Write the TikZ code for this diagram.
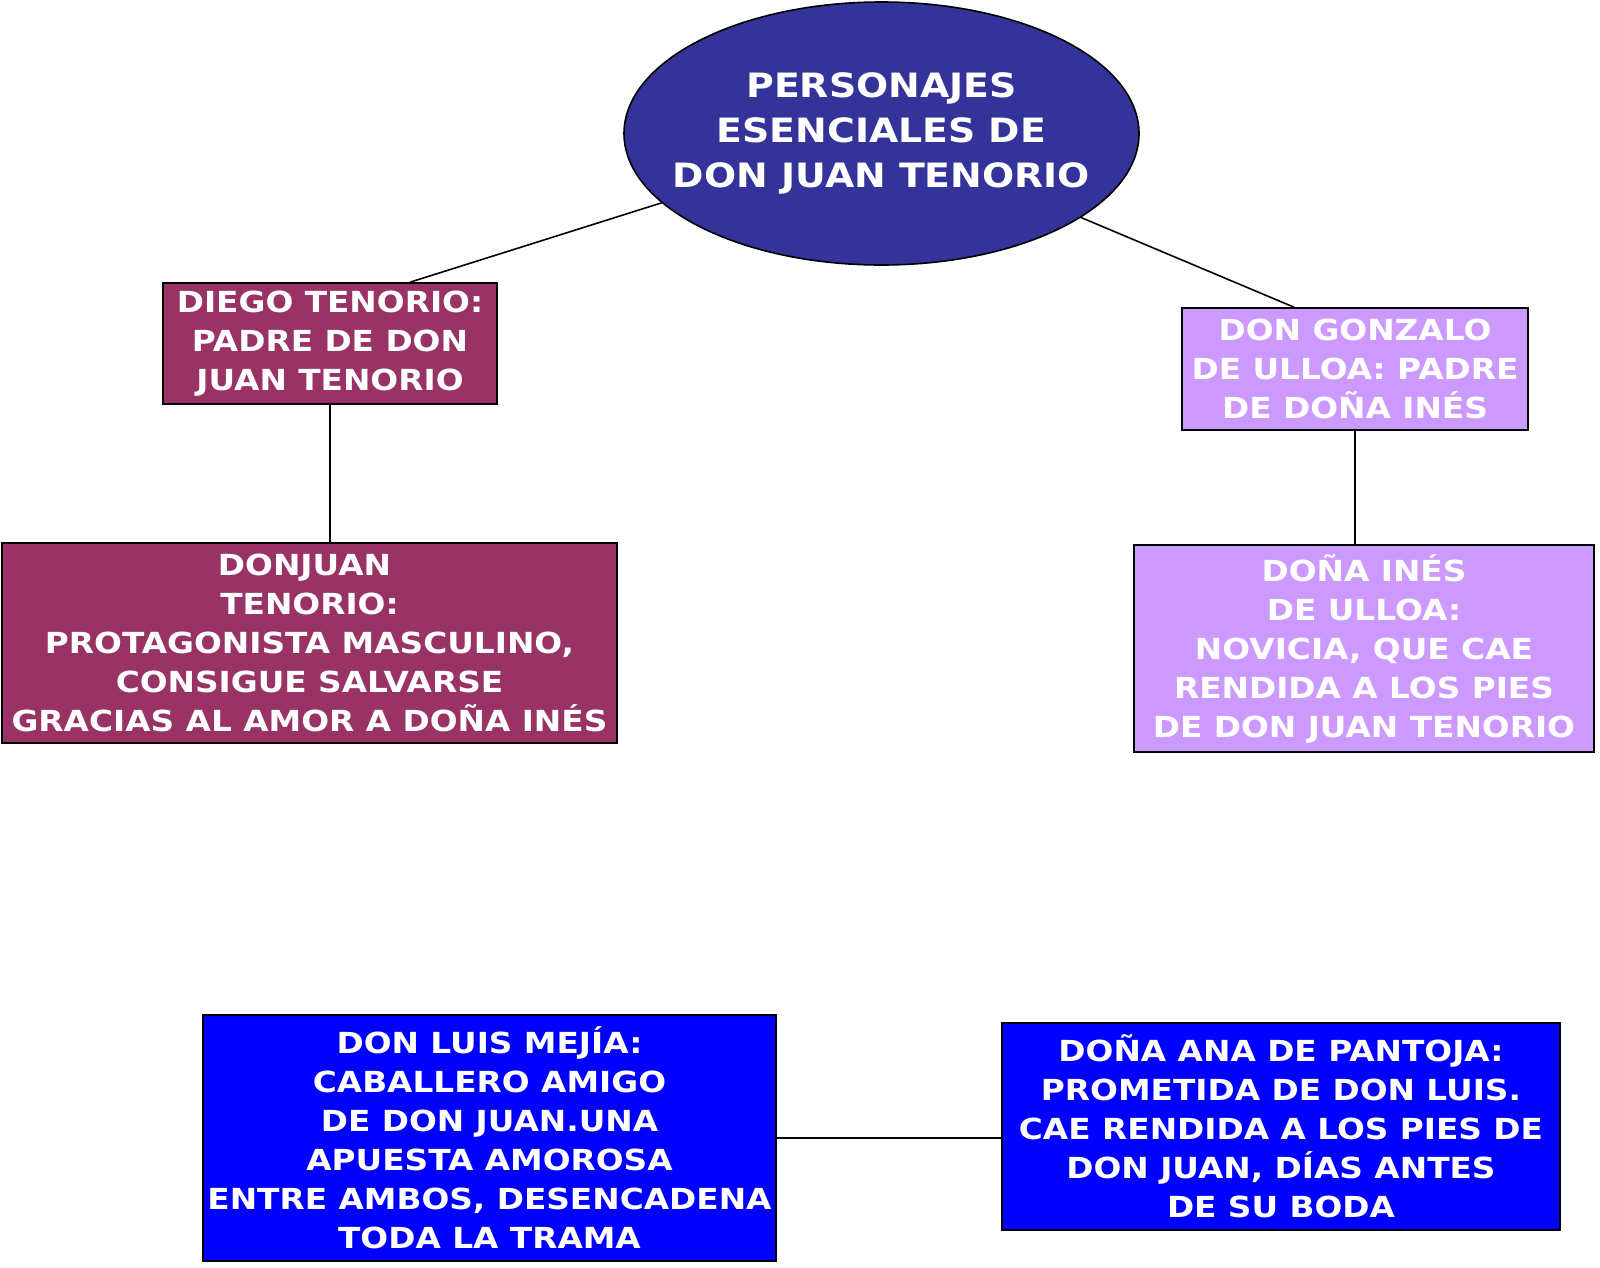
\documentclass[tikz,border=0pt]{standalone}
\usepackage{fontspec}
\setmainfont{DejaVu Sans}[FakeStretch=1.13]
\usetikzlibrary{shapes.geometric}
\definecolor{ellblue}{HTML}{333399}
\definecolor{wine}{HTML}{993366}
\definecolor{lilac}{HTML}{CC99FF}
\definecolor{pureblue}{HTML}{0000FF}
\tikzset{
  box/.style={draw=black, line width=1.6pt, rectangle, inner sep=0pt, align=center,
    text=white, font=\bfseries\fontsize{29}{39}\selectfont},
  ellnode/.style={draw=black, line width=1.6pt, ellipse, inner xsep=-40pt, inner ysep=0pt, align=center,
    text=white, fill=ellblue, font=\bfseries\fontsize{33.5}{45}\selectfont},
  conn/.style={draw=black, line width=1.6pt}
}
\begin{document}
\begin{tikzpicture}[x=1pt,y=-1pt]
\useasboundingbox (0,0) rectangle (1600,1267);
\node[ellnode, minimum width=515pt, minimum height=263pt] (ell) at (881.5,133.5)
  {PERSONAJES\\ESENCIALES DE\\DON JUAN TENORIO};
\node[box, fill=wine, minimum width=334pt, minimum height=121pt] (diego) at (330,343.5)
  {DIEGO TENORIO:\\PADRE DE DON\\JUAN TENORIO};
\node[box, fill=wine, minimum width=615pt, minimum height=200pt] (donjuan) at (309.5,643)
  {DONJUAN\hspace*{10pt}\\ TENORIO:\\PROTAGONISTA MASCULINO,\\CONSIGUE SALVARSE\\GRACIAS AL AMOR A DOÑA INÉS};
\node[box, fill=lilac, minimum width=346pt, minimum height=122pt] (gonzalo) at (1355,369)
  {DON GONZALO\\DE ULLOA: PADRE\\DE DOÑA INÉS};
\node[box, fill=lilac, minimum width=460pt, minimum height=207pt] (ines) at (1364,648.5)
  {DOÑA INÉS\\DE ULLOA:\\NOVICIA, QUE CAE\\RENDIDA A LOS PIES\\DE DON JUAN TENORIO};
\node[box, fill=pureblue, minimum width=573pt, minimum height=246pt] (luis) at (489.5,1138)
  {DON LUIS MEJÍA:\\CABALLERO AMIGO\\DE DON JUAN.UNA\\APUESTA AMOROSA\\ENTRE AMBOS, DESENCADENA\\TODA LA TRAMA};
\node[box, fill=pureblue, minimum width=558pt, minimum height=207pt] (ana) at (1281,1126.5)
  {DOÑA ANA DE PANTOJA:\\PROMETIDA DE DON LUIS.\\CAE RENDIDA A LOS PIES DE\\DON JUAN, DÍAS ANTES\\DE SU BODA};
\draw[conn] ([xshift=80pt]diego.north) -- (ell);
\draw[conn] ([xshift=-61pt]gonzalo.north) -- (ell);
\draw[conn] (diego.south) -- (diego.south |- donjuan.north);
\draw[conn] (gonzalo.south) -- (gonzalo.south |- ines.north);
\draw[conn] (luis.east) -- (luis.east -| ana.west);
\end{tikzpicture}
\end{document}
